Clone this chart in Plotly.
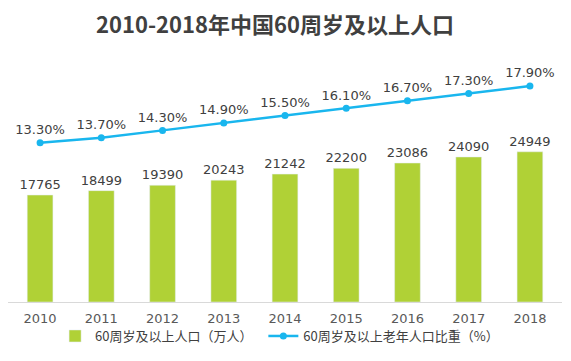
import plotly.graph_objects as go

years = ["2010", "2011", "2012", "2013", "2014", "2015", "2016", "2017", "2018"]
population = [17765, 18499, 19390, 20243, 21242, 22200, 23086, 24090, 24949]
ratio = [13.30, 13.70, 14.30, 14.90, 15.50, 16.10, 16.70, 17.30, 17.90]

title_text = "2010-2018年中国60周岁及以上人口"
bar_name = "60周岁及以上人口（万人）"
line_name = "60周岁及以上老年人口比重（%）"

num_font = "DejaVu Sans, Verdana, Noto Sans CJK SC"
cjk_font = "Noto Sans CJK SC, Microsoft YaHei, sans-serif"
text_color = "#404040"

fig = go.Figure()
fig.add_trace(go.Bar(
    x=years, y=population, name=bar_name + "\u00a0\u00a0",
    marker=dict(color="#B0D136"),
    text=[str(v) for v in population], textposition="outside",
    constraintext="none",
    textfont=dict(family=num_font, size=13, color=text_color),
    cliponaxis=False,
))
fig.add_trace(go.Scatter(
    x=years, y=ratio, name=line_name, yaxis="y2",
    mode="lines+markers+text",
    line=dict(color="#19B6EE", width=2.5),
    marker=dict(color="#19B6EE", size=7),
    text=[f"{v:.2f}%" for v in ratio], textposition="top center",
    textfont=dict(family=num_font, size=13, color=text_color),
    cliponaxis=False,
))

fig.update_layout(
    width=571, height=361,
    margin=dict(l=8, r=9, t=50, b=59),
    paper_bgcolor="white", plot_bgcolor="white",
    title=dict(text=f"<b>{title_text}</b>", x=0.4816, xanchor="center",
               y=0.931, yanchor="middle",
               font=dict(family=cjk_font, size=22, color=text_color)),
    bargap=0.58,
    showlegend=True,
    legend=dict(orientation="h", x=0.085, xanchor="left", y=-0.135, yanchor="middle",
                font=dict(family=cjk_font, size=13, color=text_color),
                itemwidth=30, tracegroupgap=0, bgcolor="rgba(0,0,0,0)"),
    xaxis=dict(showgrid=False, showline=True, linecolor="#D9D9D9", linewidth=1,
               ticks="", tickfont=dict(family=num_font, size=13, color="#595959"),
               ticklabelstandoff=4, fixedrange=True),
    yaxis=dict(range=[0, 41860], visible=False, showgrid=False, zeroline=False),
    yaxis2=dict(range=[0.38, 20.82], overlaying="y", visible=False, showgrid=False,
                zeroline=False),
)

fig.write_html("out.html")
